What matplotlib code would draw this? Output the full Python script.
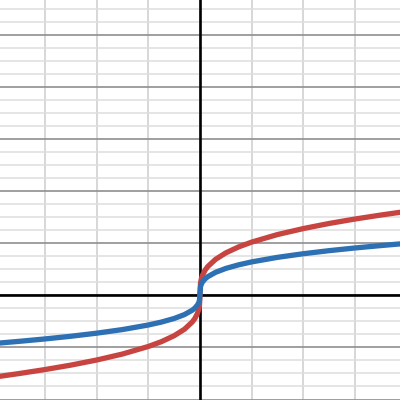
import matplotlib
matplotlib.use("Agg")
import matplotlib.pyplot as plt
from matplotlib.ticker import MultipleLocator

# points (graph units)
x_pts = [-7.74, -7, -6, -5, -4, -3, -2, -1.5, -1, -0.6, -0.3, -0.2, -0.1, -0.05, -0.02,
         0, 0.02, 0.05, 0.1, 0.2, 0.3, 0.6, 1, 1.5, 2, 3, 4, 5, 6, 7, 7.74]
blue_y = [-1.831, -1.767, -1.675, -1.572, -1.454, -1.315, -1.140, -1.029, -0.890, -0.739,
          -0.572, -0.491, -0.375, -0.283, -0.189,
          0.071, 0.331, 0.425, 0.517, 0.633, 0.714, 0.881, 1.032, 1.171, 1.282, 1.457,
          1.596, 1.714, 1.817, 1.909, 1.973]
red_y = [-3.108, -3.003, -2.850, -2.680, -2.484, -2.254, -1.964, -1.782, -1.551, -1.301,
         -1.025, -0.891, -0.699, -0.546, -0.392,
         0.039, 0.470, 0.624, 0.777, 0.969, 1.103, 1.379, 1.629, 1.860, 2.042, 2.332,
         2.562, 2.758, 2.928, 3.081, 3.186]

fig = plt.figure(figsize=(4, 4), dpi=100)
ax = fig.add_axes([0, 0, 1, 1])

ax.set_xlim(-7.743, 7.743)
ax.set_ylim(-4.019, 11.336)

# grid: vertical lines every 2 (all light), horizontal major 2 / minor 0.5
ax.xaxis.set_major_locator(MultipleLocator(2))
ax.yaxis.set_major_locator(MultipleLocator(2))
ax.yaxis.set_minor_locator(MultipleLocator(0.5))
ax.grid(True, axis="x", which="major", color="#d4d4d4", lw=1.3)
ax.grid(True, axis="y", which="minor", color="#dedede", lw=1.1)
ax.grid(True, axis="y", which="major", color="#8f8f8f", lw=1.2)
ax.set_axisbelow(True)
ax.tick_params(which="both", length=0, labelbottom=False, labelleft=False)
for s in ax.spines.values():
    s.set_visible(False)

ax.axhline(0, color="black", lw=1.9, zorder=2)
ax.axvline(0, color="black", lw=1.9, zorder=2)

ax.plot(x_pts, red_y, color="#c74440", lw=3.8, solid_capstyle="round", zorder=3)
ax.plot(x_pts, blue_y, color="#2d70b3", lw=3.8, solid_capstyle="round", zorder=4)

fig.savefig("out.png", dpi=100)
